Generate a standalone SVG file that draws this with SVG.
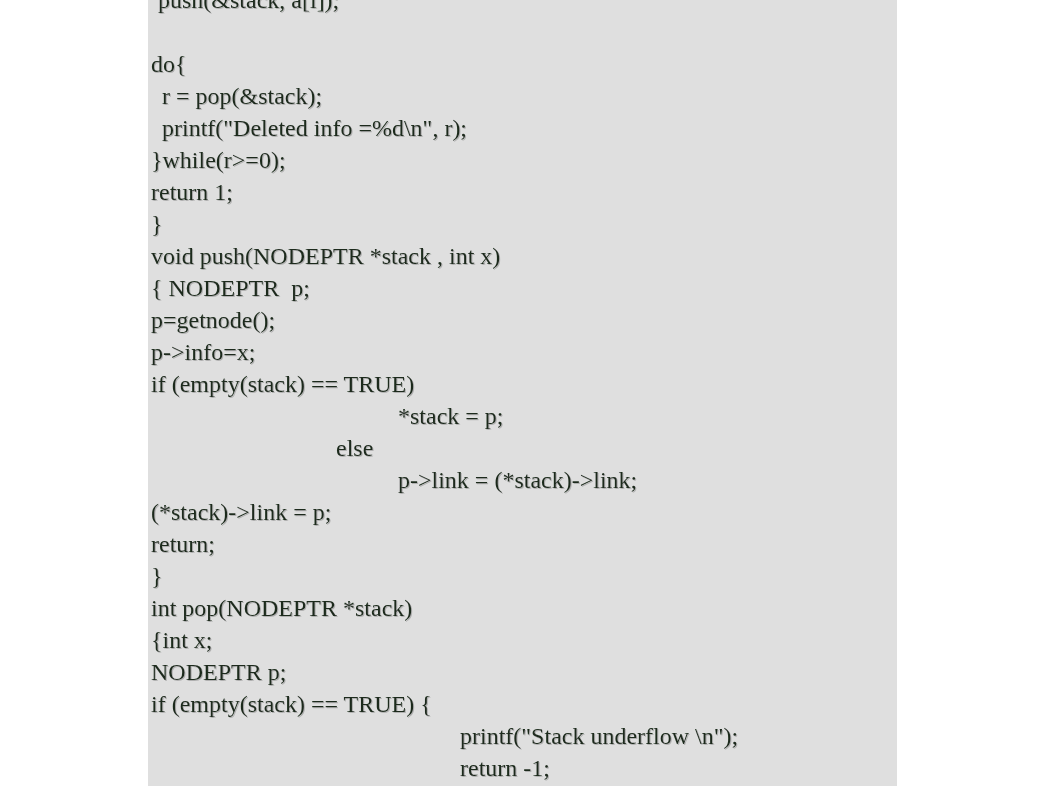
<svg xmlns="http://www.w3.org/2000/svg" width="1042" height="811" viewBox="0 0 1042 811">
<defs>
<style>
text{font-family:"Liberation Serif","Times New Roman",serif;font-size:24px;fill:#1c2b1c;white-space:pre}
</style>
<filter id="sh" x="-5%" y="-5%" width="110%" height="110%"><feDropShadow dx="1" dy="1" stdDeviation="0.6" flood-color="#909090" flood-opacity="0.6"/></filter>
</defs>
<rect x="0" y="0" width="1042" height="811" fill="#ffffff"/>
<rect x="148" y="0" width="749" height="786" fill="#dfdfdf"/>
<g filter="url(#sh)" xml:space="preserve">
<text x="158" y="8">push(&amp;stack, a[i]);</text>
<text x="151" y="72">do{</text>
<text x="162" y="104">r = pop(&amp;stack);</text>
<text x="162" y="136">printf("Deleted info =%d\n", r);</text>
<text x="151" y="168">}while(r&gt;=0);</text>
<text x="151" y="200">return 1;</text>
<text x="151" y="232">}</text>
<text x="151" y="264">void push(NODEPTR *stack , int x)</text>
<text x="151" y="296">{ NODEPTR  p;</text>
<text x="151" y="328">p=getnode();</text>
<text x="151" y="360">p-&gt;info=x;</text>
<text x="151" y="392">if (empty(stack) == TRUE)</text>
<text x="398" y="424">*stack = p;</text>
<text x="336" y="456">else</text>
<text x="398" y="488">p-&gt;link = (*stack)-&gt;link;</text>
<text x="151" y="520">(*stack)-&gt;link = p;</text>
<text x="151" y="552">return;</text>
<text x="151" y="584">}</text>
<text x="151" y="616">int pop(NODEPTR *stack)</text>
<text x="151" y="648">{int x;</text>
<text x="151" y="680">NODEPTR p;</text>
<text x="151" y="712">if (empty(stack) == TRUE) {</text>
<text x="460" y="744">printf("Stack underflow \n");</text>
<text x="460" y="776">return -1;</text>
</g>
</svg>
